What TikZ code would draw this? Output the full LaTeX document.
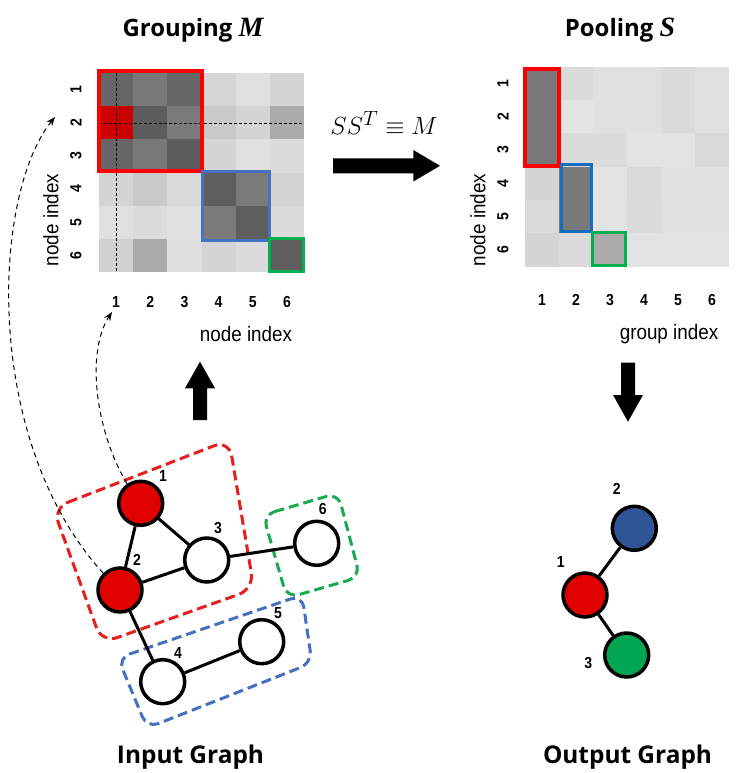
\documentclass[tikz,border=0pt]{standalone}
\usepackage{fontspec}
\setmainfont{Open Sans}
\newfontfamily\labelfont[FakeStretch=0.88]{Liberation Sans}
\newfontfamily\axisfont[FakeStretch=0.9]{Liberation Sans}
\newfontfamily\serifbi{Liberation Serif}
\usetikzlibrary{arrows.meta}
\definecolor{mred}{RGB}{255,0,0}
\definecolor{cellred}{RGB}{204,0,0}
\definecolor{mblueL}{RGB}{70,114,196}
\definecolor{mblueR}{RGB}{20,110,192}
\definecolor{mgreen}{RGB}{0,176,80}
\definecolor{nred}{RGB}{224,0,0}
\definecolor{nblue}{RGB}{47,85,151}
\definecolor{ngreen}{RGB}{0,166,81}
\definecolor{gred}{RGB}{230,30,30}
\definecolor{ggreen}{RGB}{26,168,80}
\definecolor{gblue}{RGB}{70,112,190}
\newcommand{\bivar}[1]{{\serifbi\bfseries\itshape\fontsize{28}{28}\selectfont #1}}
\tikzset{
  tick/.style={font=\labelfont\bfseries\fontsize{16}{16}\selectfont, inner sep=0pt},
  axislab/.style={font=\axisfont\fontsize{21}{21}\selectfont, inner sep=0pt},
  titlelab/.style={font=\bfseries\fontsize{24}{27}\selectfont, inner sep=0pt, anchor=base},
  bottomlab/.style={font=\bfseries\fontsize{24.5}{28}\selectfont, inner sep=0pt, anchor=base},
  gnode/.style={circle, draw=black, line width=3.5bp, minimum size=44bp, inner sep=0pt, fill=white},
  gedge/.style={line width=3bp, black},
  glab/.style={font=\labelfont\bfseries\fontsize{16}{16}\selectfont, inner sep=0pt},
  grp/.style={line width=3bp, dash pattern=on 10bp off 5bp},
  guide/.style={black, line width=0.6bp, dash pattern=on 3bp off 2bp},
  dasharrow/.style={black, line width=1bp, dash pattern=on 5bp off 4bp, -{Stealth[length=9pt,width=7pt]}},
  bigarrow/.style={fill=black}
}
\begin{document}
\begin{tikzpicture}[x=1bp,y=-1bp]
\useasboundingbox (0,0) rectangle (738,773);

% ---------- Grouping matrix M ----------
\foreach \row [count=\i] in {{60,53,60,16,12,17},{64,64,52,21,17,33},{60,53,64,17,12,14},{17,21,15,63,52,17},{12,14,12,52,63,14},{18,33,13,17,14,63}}{
  \foreach \v [count=\j] in \row {
    \fill[black!\v] ({99+34.17*(\j-1)},{73+33.17*(\i-1)}) rectangle ++(34.5,33.5);
  }
}
\fill[cellred] (99,106.17) rectangle ++(34.17,33.17);
\draw[guide] (116.1,73) -- (116.1,272);
\draw[guide] (99,122.8) -- (304,122.8);
\draw[mred, line width=4bp] (99,71) rectangle (201.5,171);
\draw[mblueL, line width=3.5bp] (202.5,171.5) rectangle (269.5,240.5);
\draw[mgreen, line width=3bp] (269.5,238.5) rectangle (303.5,271.5);
\foreach \i in {1,...,6}{
  \node[tick, rotate=90] (L-r\i) at (76,{73+33.17*(\i-0.5)}) {\i};
  \node[tick] (L-c\i) at ({99+34.17*(\i-0.5)},302) {\i};
}
\node[axislab, rotate=90] (L-ylab) at (51,220) {node index};
\node[axislab] (L-xlab) at (246,334) {node index};
\node[titlelab] (L-title) at (193,36.7) {Grouping \bivar{M}};

% ---------- Pooling matrix S ----------
\foreach \row [count=\i] in {{53,14,12,12,14,12},{53,11,12,12,14,12},{53,14,14,11,11,15},{17,53,11,15,12,12},{14,53,11,14,12,12},{17,14,33,11,11,11}}{
  \foreach \v [count=\j] in \row {
    \fill[black!\v] ({525+34*(\j-1)},{67+33.2*(\i-1)}) rectangle ++(34.3,33.5);
  }
}
\draw[mred, line width=4bp] (525,69) rectangle (559,166);
\draw[mblueR, line width=3.5bp] (561.5,164.5) rectangle (591.5,231.5);
\draw[mgreen, line width=3bp] (592.5,232.5) rectangle (625.5,265.5);
\foreach \i in {1,...,6}{
  \node[tick, rotate=90] (R-r\i) at (503,{67+33.2*(\i-0.5)}) {\i};
  \node[tick] (R-c\i) at ({525+34*(\i-0.5)},300) {\i};
}
\node[axislab, rotate=90] (R-ylab) at (478,220) {node index};
\node[axislab] (R-xlab) at (669,334) {group index};
\node[titlelab] (R-title) at (620,36.7) {Pooling \bivar{S}};

% ---------- relation ----------
\node[font=\fontsize{27.5}{30}\selectfont, inner sep=0pt] (rel) at (384,123) {$SS^T\equiv M$};
\fill[bigarrow] (333,158.3) -- (413.3,158.3) -- (413.3,150) -- (440,165.8) -- (413.3,181.5) -- (413.3,173.3) -- (333,173.3) -- cycle;
\fill[bigarrow] (193,420) -- (193,388.3) -- (185,388.3) -- (200,361.7) -- (215,388.3) -- (207,388.3) -- (207,420) -- cycle;
\fill[bigarrow] (621,362.7) -- (635,362.7) -- (635,395) -- (643,395) -- (628,421.7) -- (613,395) -- (621,395) -- cycle;

% ---------- Input graph ----------
\draw[grp, gred, rounded corners=16bp] (53,508) -- (229,440) -- (254,589) -- (102,643) -- cycle;
\draw[grp, ggreen, rounded corners=12bp] (263,515) -- (338,493) -- (360,577) -- (287,598) -- cycle;
\draw[grp, gblue, rounded corners=12bp] (118,658) -- (302,595) -- (312,663) -- (147,728) -- cycle;

\node[gnode, fill=nred] (n1) at (140.7,503.3) {};
\node[gnode, fill=nred] (n2) at (120,590) {};
\node[gnode] (n3) at (206.7,560) {};
\node[gnode] (n4) at (162.7,681.7) {};
\node[gnode] (n5) at (261.7,641.7) {};
\node[gnode] (n6) at (316.7,543.3) {};
\draw[gedge] (n1) -- (n2);
\draw[gedge] (n1) -- (n3);
\draw[gedge] (n2) -- (n3);
\draw[gedge] (n3) -- (n6);
\draw[gedge] (n2) -- (n4);
\draw[gedge] (n4) -- (n5);
\node[glab] (n1-lab) at (163,476) {1};
\node[glab] (n2-lab) at (137,560) {2};
\node[glab] (n3-lab) at (218,528) {3};
\node[glab] (n4-lab) at (178,653) {4};
\node[glab] (n5-lab) at (278,613) {5};
\node[glab] (n6-lab) at (322.7,509.3) {6};
\node[bottomlab] (in-title) at (190.5,763.3) {Input Graph};

% dashed correspondences
\coordinate (a-row2) at (55,117);
\coordinate (a-col1) at (112,312);
\draw[dasharrow] (n2.135) .. controls (-18,440) and (-8,195) .. (a-row2);
\draw[dasharrow] (n1.125) .. controls (95,430) and (86,352) .. (a-col1);

% ---------- Output graph ----------
\node[gnode, fill=nred] (o1) at (585,595) {};
\node[gnode, fill=nblue] (o2) at (634.3,528.3) {};
\node[gnode, fill=ngreen] (o3) at (626.7,655) {};
\draw[gedge] (o1) -- (o2);
\draw[gedge] (o1) -- (o3);
\node[glab] (o1-lab) at (560.7,561.7) {1};
\node[glab] (o2-lab) at (616.7,489.3) {2};
\node[glab] (o3-lab) at (588.3,662.7) {3};
\node[bottomlab] (out-title) at (627.5,763.3) {Output Graph};
\end{tikzpicture}
\end{document}
